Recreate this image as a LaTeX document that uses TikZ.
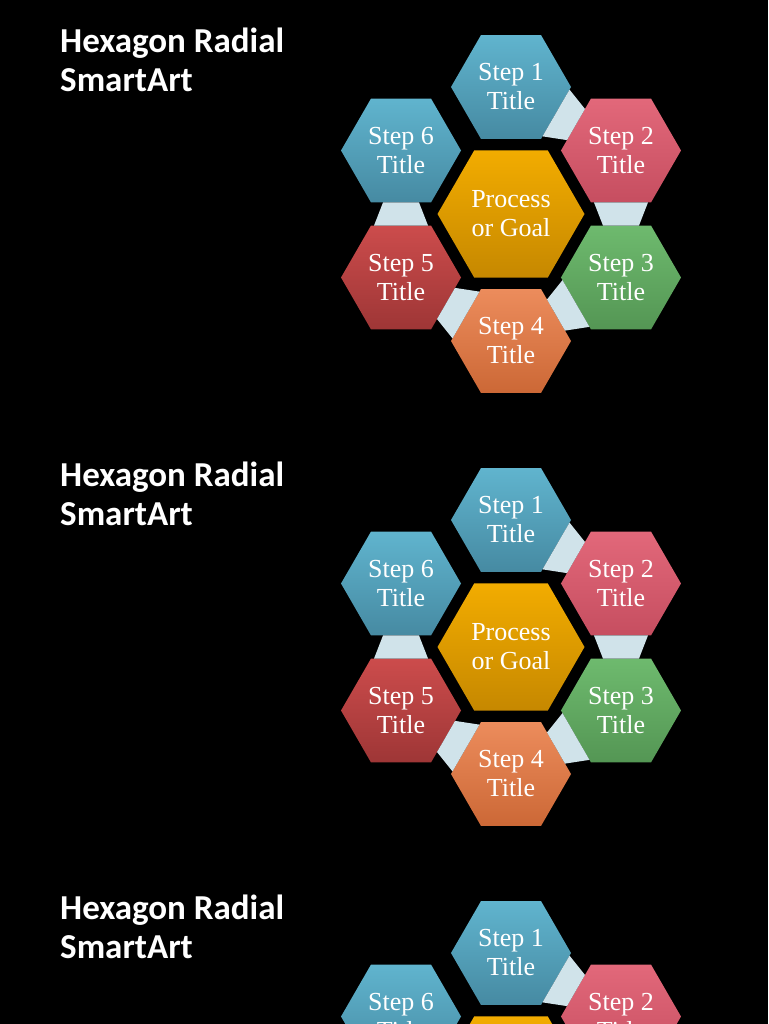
\documentclass[tikz,border=0pt]{standalone}
\usepackage{fontspec}
\setmainfont{Liberation Serif}
\newfontfamily\titlefont{Carlito}
\usetikzlibrary{shapes.geometric, positioning, calc}
\definecolor{stepblue}{RGB}{96,180,206}
\definecolor{stepbluedk}{RGB}{70,138,162}
\definecolor{steppink}{RGB}{226,104,122}
\definecolor{steppinkdk}{RGB}{198,78,96}
\definecolor{stepgreen}{RGB}{110,186,110}
\definecolor{stepgreendk}{RGB}{84,150,84}
\definecolor{steporange}{RGB}{236,140,92}
\definecolor{steporangedk}{RGB}{204,104,54}
\definecolor{stepred}{RGB}{204,76,76}
\definecolor{stepreddk}{RGB}{158,54,54}
\definecolor{goalgold}{RGB}{242,172,0}
\definecolor{goalgolddk}{RGB}{198,136,0}
\definecolor{linkblue}{RGB}{208,227,234}
\tikzset{
  hex/.style={regular polygon, regular polygon sides=6, minimum size=120pt, inner sep=0pt, outer sep=0pt, text=white, align=center, font=\fontsize{26}{29}\selectfont}, % one outer step
  goal/.style={hex, minimum size=147pt, top color=goalgold, bottom color=goalgolddk}, % the middle hexagon
  blue step/.style={hex, top color=stepblue, bottom color=stepbluedk},
  pink step/.style={hex, top color=steppink, bottom color=steppinkdk},
  green step/.style={hex, top color=stepgreen, bottom color=stepgreendk},
  orange step/.style={hex, top color=steporange, bottom color=steporangedk},
  red step/.style={hex, top color=stepred, bottom color=stepreddk},
  link/.style={fill=linkblue, draw=none}, % light band between two steps
  heading/.style={text=white, align=left, inner sep=0pt, font=\titlefont\bfseries\fontsize{35}{39}\selectfont}
}

\begin{document}
\begin{tikzpicture}[x=1pt, y=1pt]
  \fill[black] (0,0) rectangle (768,-1024);
  \useasboundingbox (0,0) rectangle (768,-1024);
  \clip (0,0) rectangle (768,-1024);

  \foreach \k in {0,1,2} {
    \begin{scope}[yshift=-433*\k]
      % base of the last line
      \node[heading, anchor=base west] (title-\k) at (60,-92) {Hexagon Radial\\SmartArt};

      \node[goal] (c-\k) at (511,-214) {Process\\or Goal};
      \node[blue step] (s1-\k) at ($(c-\k)+(90:127)$) {Step 1\\Title};
      \node[pink step] (s2-\k) at ($(c-\k)+(30:127)$) {Step 2\\Title};
      \node[green step] (s3-\k) at ($(c-\k)+(-30:127)$) {Step 3\\Title};
      \node[orange step] (s4-\k) at ($(c-\k)+(-90:127)$) {Step 4\\Title};
      \node[red step] (s5-\k) at ($(c-\k)+(-150:127)$) {Step 5\\Title};
      \node[blue step] (s6-\k) at ($(c-\k)+(150:127)$) {Step 6\\Title};

      % bands: wide on the first step, narrow on the next one
      \foreach \a/\b/\t [evaluate=\t as \ta using int(\t+30),
                         evaluate=\t as \tb using int(\t-30),
                         evaluate=\t as \tc using int(\t+150),
                         evaluate=\t as \td using int(\t+210)]
        in {1/2/-30, 2/3/-90, 3/4/-150, 4/5/150, 5/6/90} {
        \fill[link] ($(s\a-\k.\ta)!0.05!(s\a-\k.\tb)$)
          -- ($(s\a-\k.\ta)!0.95!(s\a-\k.\tb)$)
          -- ($(s\b-\k.\tc)!0.8!(s\b-\k.\td)$)
          -- ($(s\b-\k.\tc)!0.2!(s\b-\k.\td)$) -- cycle;
      }
    \end{scope}
  }
\end{tikzpicture}
\end{document}
